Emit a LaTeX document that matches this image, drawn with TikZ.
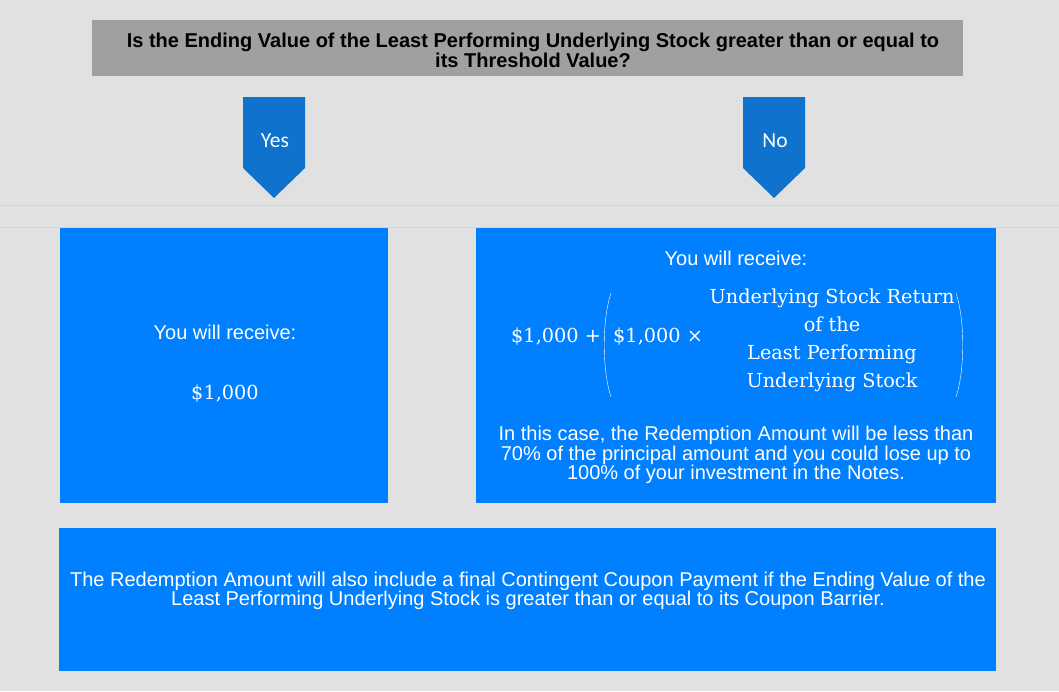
\documentclass[tikz,border=0pt]{standalone}
\usepackage{fontspec}
\setmainfont{Liberation Sans}
\newfontfamily\yesnofont{Carlito}
\newfontfamily\frmfont{DejaVu Serif}
\definecolor{bggray}{HTML}{E1E1E1}
\definecolor{linegray}{HTML}{D3D3D3}
\definecolor{titlegray}{HTML}{A0A0A0}
\definecolor{arrowblue}{HTML}{0F73CD}
\definecolor{boxblue}{HTML}{0080FF}

\begin{document}
\begin{tikzpicture}[x=1pt,y=-1pt,
    txt/.style={text=white,inner sep=0pt,align=center,font=\fontsize{20}{19.2}\selectfont},
    frm/.style={text=white,inner sep=0pt,align=center,font=\frmfont\fontsize{19.3}{28}\selectfont},
    yesno/.style={text=white,inner sep=0pt,font=\yesnofont\fontsize{21.5}{22}\selectfont}]
    \useasboundingbox (0,0) rectangle (1059,691);
    \fill[bggray] (0,0) rectangle (1059,691);
    \draw[linegray,thick] (0,205) -- (1059,205);
    \draw[linegray,thick] (0,227) -- (1059,227);

  % question
  \fill[titlegray] (92,20) rectangle (963,76);
    \node[inner sep=0pt,align=center,font=\bfseries\fontsize{20}{20}\selectfont] (question) at (533,50)
      {Is the Ending Value of the Least Performing Underlying Stock greater than or equal to\\its Threshold Value?};

  % yes / no arrows
  \fill[arrowblue] (243,97) to (305,97) to (305,168) to (274,198) to (243,168) to cycle;
    \node[yesno] (yes) at (275,141) {Yes};
  \fill[arrowblue] (743,97) to (805,97) to (805,168) to (774,198) to (743,168) to cycle;
    \node[yesno] (no) at (775,141) {No};

  % boxes
  \fill[boxblue] (60,228) rectangle (388,503);
  \fill[boxblue] (476,228) rectangle (996,503);
  \fill[boxblue] (59,528) rectangle (996,671);

    \node[txt] (leftrecv) at (225,332) {You will receive:};
    \node[frm] (leftamt) at (225,394) {\$1,000};

    \node[txt] (rightrecv) at (736,258) {You will receive:};
    \node[frm,anchor=west] (base) at (511,337) {\$1,000 +};
    \node[frm,anchor=west] (times) at (613,337) {\$1,000 ×};
    \node[frm] (ret) at (832,340) {Underlying Stock Return\\of the\\Least Performing\\Underlying Stock};
  \draw[white,thin] (611,293) .. controls (602,320) and (602,370) .. (611,397);
  \draw[white,thin] (956,293) .. controls (965,320) and (965,370) .. (956,397);
    \node[txt] (lose) at (736,455) {In this case, the Redemption Amount will be less than\\70\% of the principal amount and you could lose up to\\100\% of your investment in the Notes.};

    \node[txt] (coupon) at (528,591) {The Redemption Amount will also include a final Contingent Coupon Payment if the Ending Value of the\\Least Performing Underlying Stock is greater than or equal to its Coupon Barrier.};
\end{tikzpicture}
\end{document}
